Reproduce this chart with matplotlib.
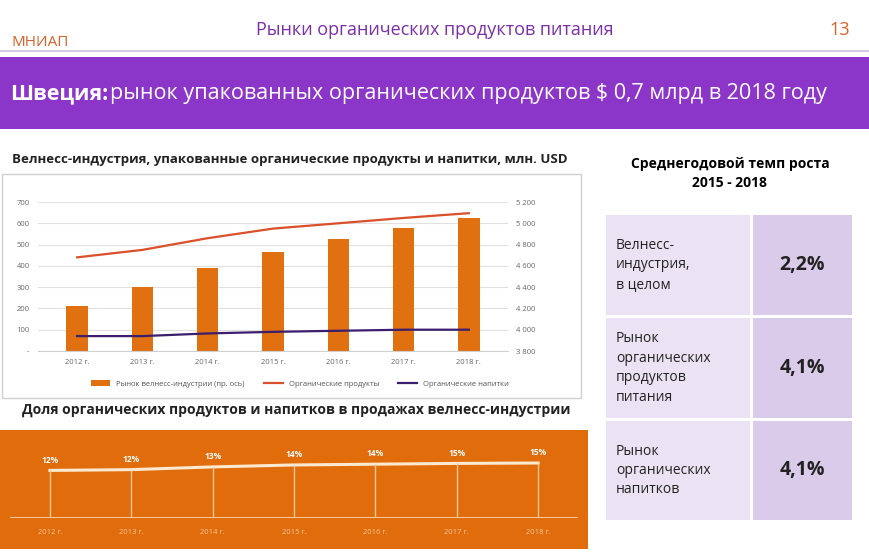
import matplotlib.pyplot as plt
from matplotlib.patches import Rectangle
import numpy as np

years = ["2012 г.", "2013 г.", "2014 г.", "2015 г.", "2016 г.", "2017 г.", "2018 г."]
wellness = [210, 300, 390, 465, 525, 580, 625]
organic_food = [4680, 4750, 4860, 4950, 5000, 5050, 5095]
organic_drinks = [3940, 3940, 3965, 3980, 3990, 4000, 4000]
share = [12.2, 12.4, 13.1, 13.6, 13.8, 14.0, 14.1]
share_labels = ["12%", "12%", "13%", "14%", "14%", "15%", "15%"]
cagr_names = ["Велнесс-\nиндустрия,\nв целом", "Рынок\nорганических\nпродуктов\nпитания",
              "Рынок\nорганических\nнапитков"]
cagr_values = ["2,2%", "4,1%", "4,1%"]

plt.rcParams["font.family"] = "Open Sans"
W, H = 870, 552
fig = plt.figure(figsize=(W / 100, H / 100), dpi=100)
fig.patch.set_facecolor("white")


def box(x0, y0, x1, y1):
    # pixel box (top-left origin) -> figure fraction rect
    return [x0 / W, 1 - y1 / H, (x1 - x0) / W, (y1 - y0) / H]


def rect(x0, y0, x1, y1, **kw):
    fig.patches.append(Rectangle((x0 / W, 1 - y1 / H), (x1 - x0) / W, (y1 - y0) / H,
                                 transform=fig.transFigure, zorder=-5, **kw))


def txt(x, y, s, **kw):
    fig.text(x / W, 1 - y / H, s, **kw)


# header
txt(40, 43, "МНИАП", color="#d9622b", fontsize=11, ha="center", va="center")
txt(435, 30, "Рынки органических продуктов питания", color="#7b2fa8", fontsize=13,
    ha="center", va="center")
txt(840, 30, "13", color="#d9622b", fontsize=13, ha="center", va="center")
rect(0, 50, W, 52, color="#d8c8e8", lw=0)
rect(0, 57, W, 129, color="#8b35c9", lw=0)
txt(10, 94, "Швеция:", color="white", fontsize=15.5, fontweight="bold", va="center")
txt(110, 94, "рынок упакованных органических продуктов $ 0,7 млрд в 2018 году",
    color="white", fontsize=15.5, va="center")

# main chart
txt(12, 160, "Велнесс-индустрия, упакованные органические продукты и напитки, млн. USD",
    fontsize=9.5, fontweight="bold", va="center", color="#222222")
rect(2, 174, 581, 398, facecolor="none", edgecolor="#d0d0d0", lw=1)
ax = fig.add_axes(box(38, 202, 508, 351))
x = np.arange(len(years))
ax.bar(x, wellness, width=0.33, color="#e07010", label="Рынок велнесс-индустрии (пр. ось)", zorder=2)
ax.set_ylim(0, 700)
ax.set_yticks(range(0, 701, 100))
ax.set_yticklabels(["-"] + [str(v) for v in range(100, 701, 100)])
ax.set_xticks(x)
ax.set_xticklabels(years)
ax.set_xlim(-0.6, 6.6)
ax.grid(axis="y", color="#e0e0e0", lw=0.8, zorder=0)
for s in ["top", "right", "left"]:
    ax.spines[s].set_visible(False)
ax.spines["bottom"].set_color("#d0d0d0")
ax.tick_params(length=0, labelsize=5.5, labelcolor="#666666", pad=6)
ax2 = ax.twinx()
ax2.plot(x, organic_food, color="#d9502b", lw=1.6, label="Органические продукты")
ax2.plot(x, organic_drinks, color="#3b1f6e", lw=1.6, label="Органические напитки")
ax2.set_ylim(3800, 5200)
ax2.set_yticks(range(3800, 5201, 200))
ax2.set_yticklabels([f"{v // 1000} {v % 1000:03d}" for v in range(3800, 5201, 200)])
for s in ax2.spines.values():
    s.set_visible(False)
ax2.tick_params(length=0, labelsize=5.5, labelcolor="#666666", pad=6)
h1, l1 = ax.get_legend_handles_labels()
h2, l2 = ax2.get_legend_handles_labels()
fig.legend(h1 + h2, l1 + l2, loc="center", bbox_to_anchor=(300 / W, 1 - 384 / H), ncol=3,
           frameon=False, fontsize=5.5, labelcolor="#555555", handlelength=2.5,
           columnspacing=2.5)

# share chart
txt(22, 410, "Доля органических продуктов и напитков в продажах велнесс-индустрии",
    fontsize=10, fontweight="bold", va="center", color="#222222")
rect(0, 430, 588, 549, color="#e06c0c", lw=0)
bx = fig.add_axes(box(10, 440, 578, 518))
bx.set_facecolor("none")
bx.plot(x, share, color="#fbe9d0", lw=2.2)
bx.vlines(x, 0, share, color="#f7c79a", lw=1)
bx.axhline(0, color="#f7c79a", lw=1.5)
for xi, v, lab in zip(x, share, share_labels):
    bx.text(xi, v + 2, lab, color="white", fontsize=6, fontweight="bold", ha="center")
bx.set_ylim(0, 20)
bx.set_xlim(-0.49, 6.49)
bx.set_xticks(x)
bx.set_xticklabels(years)
bx.set_yticks([])
for s in bx.spines.values():
    s.set_visible(False)
bx.tick_params(length=0, labelsize=5.5, labelcolor="#f7c79a", pad=8)

# right table
txt(730, 164, "Среднегодовой темп роста", fontsize=10, fontweight="bold", ha="center", va="center")
txt(730, 183, "2015 - 2018", fontsize=10, fontweight="bold", ha="center", va="center")
rows = [(215, 315), (318, 418), (421, 520)]
for (y0, y1), name, val in zip(rows, cagr_names, cagr_values):
    rect(606, y0, 750, y1, color="#ebe3f3", lw=0)
    rect(753, y0, 852, y1, color="#d9cbe9", lw=0)
    txt(616, (y0 + y1) / 2, name, fontsize=10, va="center", color="#222222", linespacing=1.4)
    txt(802, (y0 + y1) / 2, val, fontsize=14, fontweight="bold", ha="center", va="center",
        color="#222222")

fig.savefig("out.png", dpi=100)
